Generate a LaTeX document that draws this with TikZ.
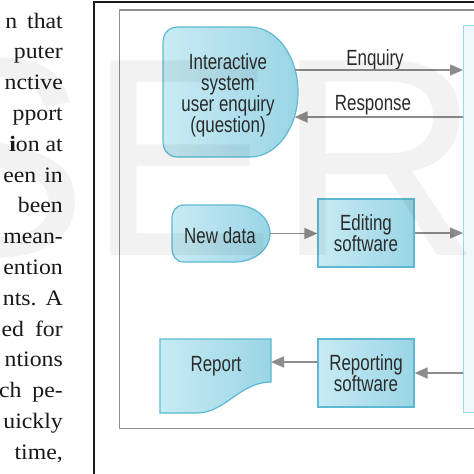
\documentclass[tikz,border=0pt]{standalone}
\usepackage{fontspec}
\setmainfont[FakeStretch=1.08]{Liberation Serif}
\newfontfamily\dfont[FakeStretch=0.77]{Liberation Sans}
\newfontfamily\wmfont{Liberation Sans}
\usetikzlibrary{arrows.meta}
\definecolor{txt}{HTML}{2B2B2B}
\definecolor{cyL}{HTML}{C8EBF4}
\definecolor{cyD}{HTML}{9AD5E5}
\definecolor{cyB}{HTML}{5DB9D1}
\definecolor{dbF}{HTML}{EEF8FB}
\definecolor{dbB}{HTML}{9CD8E7}
\definecolor{arrC}{HTML}{8C8C8C}
\definecolor{frameC}{HTML}{909090}
\newcommand\dlabel{\dfont\fontsize{22}{21}\selectfont}
\newcommand\ptfont{\rmfamily\fontsize{22}{30}\selectfont}
\tikzset{
  shp/.style={draw=cyB, line width=1.2pt, left color=cyL, right color=cyD},
  swbox/.style={shp, rectangle, minimum width=96pt, minimum height=68pt, inner sep=0pt, align=center, font=\dlabel, text=txt},
  lbl/.style={font=\dlabel, text=txt, inner sep=0pt},
  arr/.style={draw=arrC, line width=1.5pt, -{Triangle[length=13pt,width=11pt]}},
  ptxt/.style={anchor=base east, inner sep=0pt, font=\ptfont, text=black!90},
}
\begin{document}
\begin{tikzpicture}[x=1pt,y=-1pt]
\useasboundingbox (0,0) rectangle (474,474);
\clip (0,0) rectangle (474,474);
\fill[white] (0,0) rectangle (474,474);
% paper text on the left
\node[ptxt] (p1) at (63,28) {n\hspace{10pt}that};
\node[ptxt] (p2) at (63,58.8) {puter};
\node[ptxt] (p3) at (63,89.6) {nctive};
\node[ptxt] (p4) at (63,120.4) {pport};
\node[ptxt] (p5) at (63,151.2) {\textbf{i}on at};
\node[ptxt] (p6) at (63,182) {een\hspace{8pt}in};
\node[ptxt] (p7) at (63,212.8) {been};
\node[ptxt] (p8) at (63,243.6) {mean-};
\node[ptxt] (p9) at (63,274.4) {ention};
\node[ptxt] (p10) at (63,305.2) {nts.\hspace{9pt}A};
\node[ptxt] (p11) at (63,336) {ed\hspace{11pt}for};
\node[ptxt] (p12) at (63,366.8) {ntions};
\node[ptxt] (p13) at (63,397.6) {ch\hspace{11pt}pe-};
\node[ptxt] (p14) at (63,428.4) {uickly};
\node[ptxt] (p15) at (63,459.2) {time,};
% frames
\draw[draw=black!90, line width=2pt] (94,1.5) rectangle (500,500);
\draw[draw=frameC, line width=1.2pt] (119.5,10) rectangle (500,428.5);
% data store box on the right
\node[draw=dbB, fill=dbF, line width=1.2pt, minimum width=60pt, minimum height=387pt, anchor=north west, inner sep=0pt] (db) at (463,25) {};
% shapes
\path[shp] (178,27) -- (250,27) arc[start angle=-90,end angle=90,x radius=48,y radius=65]
  -- (178,157) .. controls (169,157) and (163,151) .. (163,141) -- (163,43)
  .. controls (163,33) and (169,27) .. (178,27) -- cycle;
\path[shp] (184,205) -- (235,205) arc[start angle=-90,end angle=90,x radius=35,y radius=28.5]
  -- (184,262) .. controls (176,262) and (172,256) .. (172,248) -- (172,219)
  .. controls (172,211) and (176,205) .. (184,205) -- cycle;
\path[shp] (160,339) -- (271,339) -- (271,382) .. controls (240,382) and (225,413) .. (197,413) -- (160,413) -- cycle;
\node[swbox] (ed) at (366,233) {Editing\\software};
\node[swbox] (rp) at (366,373) {Reporting\\software};
% texts
\node[lbl, align=center] (iq) at (228,95.8) {Interactive\\system\\user enquiry\\(question)};
\node[lbl, anchor=base] (nd) at (220,243) {New data};
\node[lbl, anchor=base] (rep) at (216,371.7) {Report};
\node[lbl, anchor=base] (enq) at (375,65.7) {Enquiry};
\node[lbl, anchor=base] (resp) at (373,110.7) {Response};
% connector end points on the curved shapes
\coordinate (iqA) at (295,70);
\coordinate (iqB) at (294.5,117);
\coordinate (ndE) at (270,233.5);
\coordinate (repE) at (271,362);
% connectors
\draw[arr] (iqA) -- (iqA -| db.west);
\draw[arr] (iqB -| db.west) -- (iqB);
\draw[arr] (ndE) -- (ndE -| ed.west);
\draw[arr] (ed.east) -- (ed.east -| db.west);
\draw[arr] (rp.east -| db.west) -- (rp.east);
\draw[arr] (rp.west |- repE) -- (repE);
% faint watermark
\node[anchor=base west, inner sep=0pt, font=\wmfont\fontsize{283}{283}\selectfont, text=black, text opacity=0.05] (wm) at (-101,255) {SER};
\end{tikzpicture}
\end{document}
